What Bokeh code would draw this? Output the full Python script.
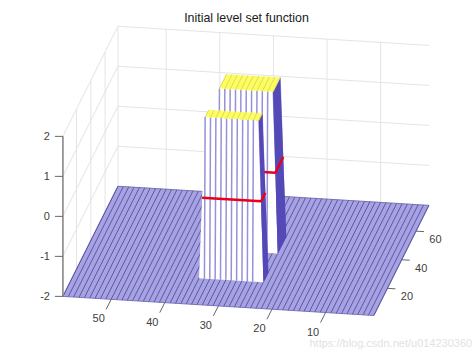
from bokeh.plotting import figure
from bokeh.embed import file_html
from bokeh.resources import INLINE
from bokeh.core.properties import value
from bokeh.models import Range1d

title = "Initial level set function"
watermark = "https://blog.csdn.net/u014230360"
x_ticks = [10, 20, 30, 40, 50]
y_ticks = [20, 40, 60]
z_ticks = [-2, -1, 0, 1, 2]
x_extent = [1, 59]
y_extent = [1, 78]
z_extent = [-2, 2]
block_x = [25, 35]
front_block_y = [20, 25]
back_block_y = [40, 50]
front_contour_x = [35.5, 24.5, 24.5]
front_contour_y = [19.5, 19.5, 25.5]
back_contour_x = [35.5, 24.5, 24.5]
back_contour_y = [39.5, 39.5, 50.5]

FLOOR, FLOOR_LINE = "#a7a3e2", "#5c57a6"
WALL_LINE, SIDE, SIDE_LINE = "#9692d8", "#4a3db0", "#5a50bc"
TOP, TOP_LINE = "#fdfd62", "#dcdc58"
GRID, AXIS, TXT = "#e4e4e4", "#888888", "#404040"
FONT = value("Liberation Sans")


def sx(x, y, z):
    return 373.3 - 5.36 * (x - 1) + 0.715 * (y - 1)


def sy(x, y, z):
    return 315 - 0.33 * (x - 1) - 1.43 * (y - 1) - 40 * (z + 2)


def poly(p, pts, **kw):
    p.patch([sx(*q) for q in pts], [sy(*q) for q in pts], **kw)


def segs(p, pairs, **kw):
    p.multi_line([[sx(*a), sx(*b)] for a, b in pairs],
                 [[sy(*a), sy(*b)] for a, b in pairs], **kw)


p = figure(width=474, height=355, output_backend="svg", toolbar_location=None,
           x_range=Range1d(0, 474), y_range=Range1d(355, 0),
           x_axis_type=None, y_axis_type=None, min_border=0, outline_line_color=None)
p.grid.visible = False
p.background_fill_color = "white"

x0, x1 = x_extent
y0, y1 = y_extent
zb, zt = z_extent

# walls
walls = []
for z in z_ticks:
    walls.append(((x1, y0, z), (x1, y1, z)))
    walls.append(((x1, y1, z), (x0, y1, z)))
for x in x_ticks:
    walls.append(((x, y1, zb), (x, y1, zt)))
for y in y_ticks:
    walls.append(((x1, y, zb), (x1, y, zt)))
walls.append(((x1, y1, zb), (x1, y1, zt)))
segs(p, walls, line_color=GRID, line_width=1)

# floor
poly(p, [(x0, y0, zb), (x1, y0, zb), (x1, y1, zb), (x0, y1, zb)],
     fill_color=FLOOR, line_color="#7a76b8", line_width=1)
segs(p, [((x, y0, zb), (x, y1, zb)) for x in range(x0, x1 + 1)],
     line_color=FLOOR_LINE, line_width=1)


def block(yb, cx, cy):
    xa, xb = block_x
    ya, yc = yb
    # front wall
    poly(p, [(xb, ya, zt), (xa, ya, zt), (xa - 1, ya - 1, zb), (xb + 1, ya - 1, zb)],
         fill_color="white", line_color=None)
    segs(p, [((x, ya, zt), (x, ya - 1, zb)) for x in range(xa + 1, xb + 1)],
         line_color=WALL_LINE, line_width=1.5)
    # right side wall
    poly(p, [(xa, ya, zt), (xa, yc, zt), (xa - 1, yc + 1, zb), (xa - 1, ya - 1, zb)],
         fill_color=SIDE, line_color=None)
    segs(p, [((xa, y, zt), (xa - 1, y, zb)) for y in range(ya, yc + 1)],
         line_color=SIDE_LINE, line_width=0.6)
    # top
    poly(p, [(xa, ya, zt), (xb, ya, zt), (xb, yc, zt), (xa, yc, zt)],
         fill_color=TOP, line_color=None)
    segs(p, [((x, ya, zt), (x, yc, zt)) for x in range(xa, xb + 1)],
         line_color=TOP_LINE, line_width=1)
    # zero level contour
    p.line([sx(a, b, 0) for a, b in zip(cx, cy)], [sy(a, b, 0) for a, b in zip(cx, cy)],
           line_color="#e8001c", line_width=2.5)


block(back_block_y, back_contour_x, back_contour_y)
block(front_block_y, front_contour_x, front_contour_y)

# z axis
segs(p, [((x1, y0, zb), (x1, y0, zt))], line_color=AXIS, line_width=1.6)
p.segment([sx(x1, y0, z) for z in z_ticks], [sy(x1, y0, z) for z in z_ticks],
          [sx(x1, y0, z) - 8 for z in z_ticks], [sy(x1, y0, z) for z in z_ticks],
          line_color="#666666", line_width=1)
p.text([sx(x1, y0, z) for z in z_ticks], [sy(x1, y0, z) for z in z_ticks],
       text=[str(z) for z in z_ticks], x_offset=-13, text_align="right",
       text_baseline="middle", text_font=FONT, text_font_size="11px", text_color=TXT)

# x axis
segs(p, [((x, y0, zb), (x, y0 - 7, zb)) for x in x_ticks], line_color="#666666", line_width=1)
p.text([sx(x, y0, zb) for x in x_ticks], [sy(x, y0, zb) for x in x_ticks],
       text=[str(x) for x in x_ticks], x_offset=-12.5, y_offset=19, text_align="center",
       text_baseline="middle", text_font=FONT, text_font_size="11px", text_color=TXT)

# y axis
segs(p, [((x0, y, zb), (x0 - 1.5, y, zb)) for y in y_ticks], line_color="#666666", line_width=1)
p.text([sx(x0, y, zb) for y in y_ticks], [sy(x0, y, zb) for y in y_ticks],
       text=[str(y) for y in y_ticks], x_offset=19.5, y_offset=8, text_align="center",
       text_baseline="middle", text_font=FONT, text_font_size="11px", text_color=TXT)

p.text([246], [17], text=[title], text_align="center", text_baseline="middle",
       text_font=FONT, text_font_size="12.4px", text_color="#1a1a1a")
p.text([309], [342], text=[watermark], text_align="left", text_baseline="middle",
       text_font=FONT, text_font_size="11px", text_color="#e2e2e2")

open("out.html", "w").write(file_html(p, INLINE))
